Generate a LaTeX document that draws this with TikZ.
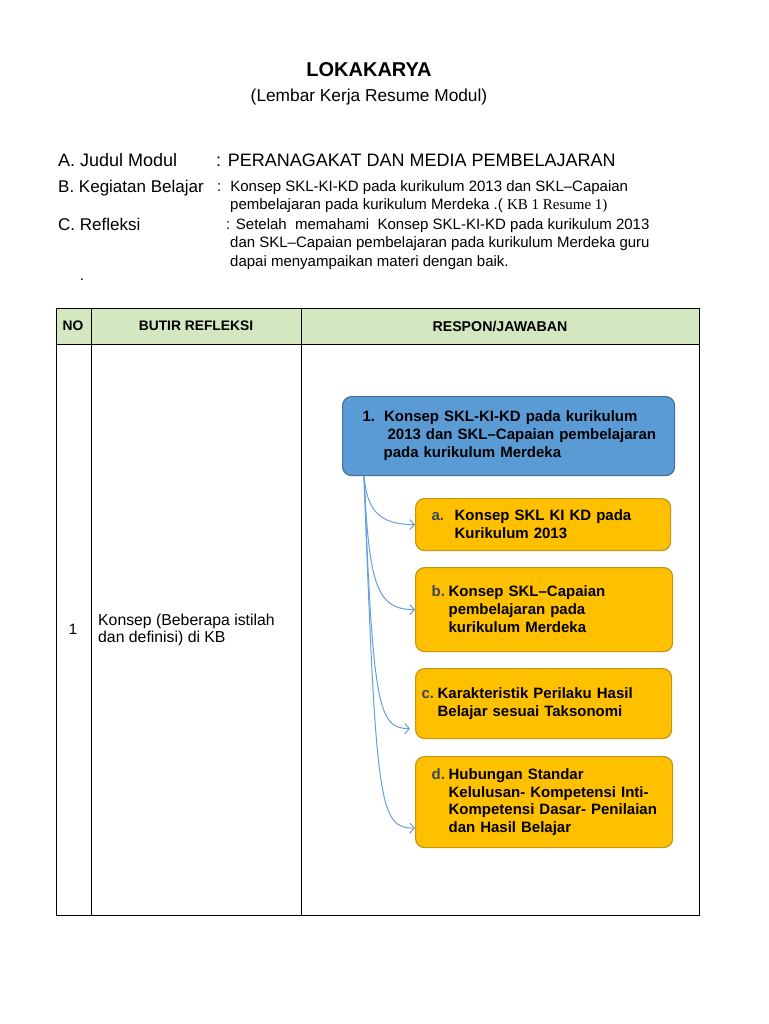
\documentclass[tikz,border=0pt]{standalone}
\usepackage{fontspec}
\setmainfont{Liberation Sans}
\newfontfamily\kbserif{Liberation Serif}
\usetikzlibrary{arrows.meta}

\definecolor{hdrgreen}{RGB}{211,231,193}
\definecolor{mainblue}{RGB}{91,155,213}
\definecolor{mainedge}{RGB}{65,113,156}
\definecolor{subgold}{RGB}{255,192,0}
\definecolor{subedge}{RGB}{196,150,20}
\definecolor{linkblue}{RGB}{102,160,218}
\definecolor{lblslate}{RGB}{58,70,90}

\newcommand{\fs}[2]{\fontsize{#1}{#2}\selectfont}
\newcommand{\lbl}[2]{\makebox[#1][l]{\textcolor{lblslate}{#2}}}

\begin{document}
\begin{tikzpicture}[x=1pt, y=-1pt,
	every node/.style={inner sep=0pt},
	info/.style={anchor=north west, align=left, font=\fs{15}{18.5}},
	infolbl/.style={anchor=base west, font=\fs{17}{20}},
	hdr/.style={font=\bfseries\fs{13.8}{16}},
	rbox/.style={draw, line width=1.2pt, rounded corners=9pt, anchor=north west, align=left, inner xsep=16pt, font=\bfseries\fs{15}{18}},
	mainbox/.style={rbox, fill=mainblue, draw=mainedge},
	subbox/.style={rbox, fill=subgold, draw=subedge},
	link/.style={draw=linkblue, line width=1pt, -{Straight Barb[length=4.5pt,width=10pt]}}]
	\useasboundingbox[fill=white] (0,0) rectangle (768,1024);

	% heading
	\node[font=\bfseries\fs{20}{24}] (title) at (369,70) {LOKAKARYA};
	\node[font=\fs{17.3}{20}] (subtitle) at (369,97) {(Lembar Kerja Resume Modul)};

	\node[infolbl, font=\fs{18}{20}] (lblA) at (58,167) {A. Judul Modul};
	\node[infolbl] (lblB) at (58,193) {B. Kegiatan Belajar};
	\node[infolbl] (lblC) at (58,230) {C. Refleksi};
	\node[anchor=base west, font=\fs{18}{20}] (txtA) at (216,167) {: PERANAGAKAT DAN MEDIA PEMBELAJARAN};
	\node[info] (txtB) at (217,180) {:\hspace{9pt}Konsep SKL-KI-KD pada kurikulum 2013 dan SKL--Capaian\\\hspace*{13pt}pembelajaran pada kurikulum Merdeka .( {\kbserif KB 1 Resume 1)}};
	\node[info] (txtC) at (226,218) {: Setelah\ \ memahami\ \ Konsep SKL-KI-KD pada kurikulum 2013\\\hspace*{4pt}dan SKL--Capaian pembelajaran pada kurikulum Merdeka guru\\\hspace*{4pt}dapai menyampaikan materi dengan baik.};
	\node[font=\fs{15}{18}] (dot) at (82,280) {.};

	% table
	\fill[hdrgreen] (56,308) rectangle (699,344);
	\draw[line width=1pt] (56,308) rectangle (699,915);
	\draw[line width=1pt] (56,344) -- (699,344);
	\draw[line width=1pt] (91,308) -- (91,915);
	\draw[line width=1pt] (301,308) -- (301,915);
	\node[hdr] (hNo) at (73,326) {NO};
	\node[hdr] (hButir) at (196,326) {BUTIR REFLEKSI};
	\node[hdr, font=\bfseries\fs{14.2}{16}] (hRespon) at (500,326) {RESPON/JAWABAN};
	\node[font=\fs{15}{17}] (rowNo) at (73,629) {1};
	\node[anchor=west, align=left, font=\fs{15.8}{17}] (rowButir) at (98,630) {Konsep (Beberapa istilah\\dan definisi) di KB};

	% response diagram
	\node[mainbox, minimum width=332pt, minimum height=79pt, text width=300pt] (konsep) at (342,396)
		{\hspace*{4pt}1.\hspace{9pt}Konsep SKL-KI-KD pada kurikulum\\\hspace*{29pt}2013 dan SKL--Capaian pembelajaran\\\hspace*{25pt}pada kurikulum Merdeka};
	\node[subbox, minimum width=255pt, minimum height=52pt, text width=223pt] (kA) at (415,498)
		{\lbl{23pt}{a.}Konsep SKL KI KD pada\\\hspace*{23pt}Kurikulum 2013};
	\node[subbox, minimum width=257pt, minimum height=84pt, text width=225pt] (kB) at (415,567)
		{\lbl{17pt}{b.}Konsep SKL--Capaian\\\hspace*{17pt}pembelajaran pada\\\hspace*{17pt}kurikulum Merdeka};
	\node[subbox, inner xsep=6pt, minimum width=256pt, minimum height=70pt, text width=244pt] (kC) at (415,668)
		{\lbl{16pt}{c.}Karakteristik Perilaku Hasil\\\hspace*{16pt}Belajar sesuai Taksonomi};
	\node[subbox, inner xsep=6pt, minimum width=257pt, minimum height=91pt, text width=245pt, font=\bfseries\fs{15}{17.5}] (kD) at (415,756)
		{\hspace*{10pt}\lbl{17pt}{d.}Hubungan Standar\\\hspace*{27pt}Kelulusan- Kompetensi Inti-\\\hspace*{27pt}Kompetensi Dasar- Penilaian\\\hspace*{27pt}dan Hasil Belajar};

	\coordinate (src) at (364,476);
	\draw[link] (src) .. controls +(3,32) and +(-38,0) .. (kA.west);
	\draw[link] (src) .. controls +(5,110) and +(-38,0) .. (kB.west);
	\draw[link] (src) .. controls +(9,230) and +(-32,0) .. ([shift={(-5,25)}]kC.west);
	\draw[link] (src) .. controls +(12,330) and +(-36,0) .. ([shift={(0,26)}]kD.west);
\end{tikzpicture}
\end{document}
